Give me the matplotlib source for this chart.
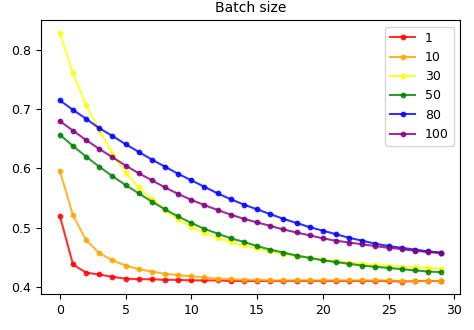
import matplotlib
matplotlib.use("Agg")
import matplotlib.pyplot as plt

x = list(range(30))
labels = ["1", "10", "30", "50", "80", "100"]
colors = ["red", "orange", "yellow", "green", "blue", "purple"]

s1 = [0.52, 0.438, 0.424, 0.421, 0.417, 0.414, 0.413, 0.413, 0.412, 0.412,
      0.411, 0.411, 0.411, 0.410, 0.410, 0.410, 0.410, 0.410, 0.410, 0.410,
      0.410, 0.410, 0.410, 0.410, 0.410, 0.410, 0.409, 0.410, 0.410, 0.410]
s10 = [0.596, 0.521, 0.479, 0.457, 0.445, 0.436, 0.430, 0.426, 0.422, 0.420,
       0.418, 0.416, 0.414, 0.413, 0.412, 0.412, 0.411, 0.411, 0.411, 0.411,
       0.411, 0.411, 0.411, 0.411, 0.411, 0.411, 0.410, 0.410, 0.410, 0.410]
s30 = [0.829, 0.761, 0.707, 0.665, 0.625, 0.593, 0.568, 0.548, 0.530, 0.514,
       0.501, 0.491, 0.483, 0.476, 0.470, 0.465, 0.460, 0.456, 0.452, 0.449,
       0.446, 0.443, 0.441, 0.439, 0.437, 0.436, 0.434, 0.433, 0.432, 0.431]
s50 = [0.657, 0.638, 0.620, 0.603, 0.587, 0.572, 0.558, 0.544, 0.531, 0.519,
       0.508, 0.498, 0.490, 0.482, 0.476, 0.469, 0.463, 0.458, 0.453, 0.449,
       0.445, 0.442, 0.439, 0.436, 0.434, 0.432, 0.430, 0.428, 0.426, 0.425]
s80 = [0.715, 0.699, 0.684, 0.668, 0.655, 0.641, 0.628, 0.615, 0.603, 0.591,
       0.580, 0.569, 0.558, 0.548, 0.539, 0.531, 0.523, 0.515, 0.508, 0.501,
       0.495, 0.489, 0.483, 0.478, 0.473, 0.469, 0.466, 0.463, 0.460, 0.458]
s100 = [0.680, 0.664, 0.648, 0.633, 0.619, 0.605, 0.592, 0.580, 0.568, 0.557,
        0.547, 0.538, 0.530, 0.522, 0.515, 0.509, 0.503, 0.497, 0.492, 0.487,
        0.482, 0.478, 0.475, 0.472, 0.469, 0.466, 0.464, 0.461, 0.459, 0.457]
series = [s1, s10, s30, s50, s80, s100]

fig, ax = plt.subplots(figsize=(4.74, 3.3), dpi=100)
for lab, col, ys in zip(labels, colors, series):
    ax.plot(x, ys, marker="o", markersize=3.2, color=col, label=lab,
            linewidth=1.5, alpha=0.8)
ax.set_title("Batch size", fontsize=10)
ax.tick_params(labelsize=9)
ax.legend(fontsize=9)
fig.subplots_adjust(left=0.086, right=0.971, top=0.938, bottom=0.109)
fig.savefig("out.png")
